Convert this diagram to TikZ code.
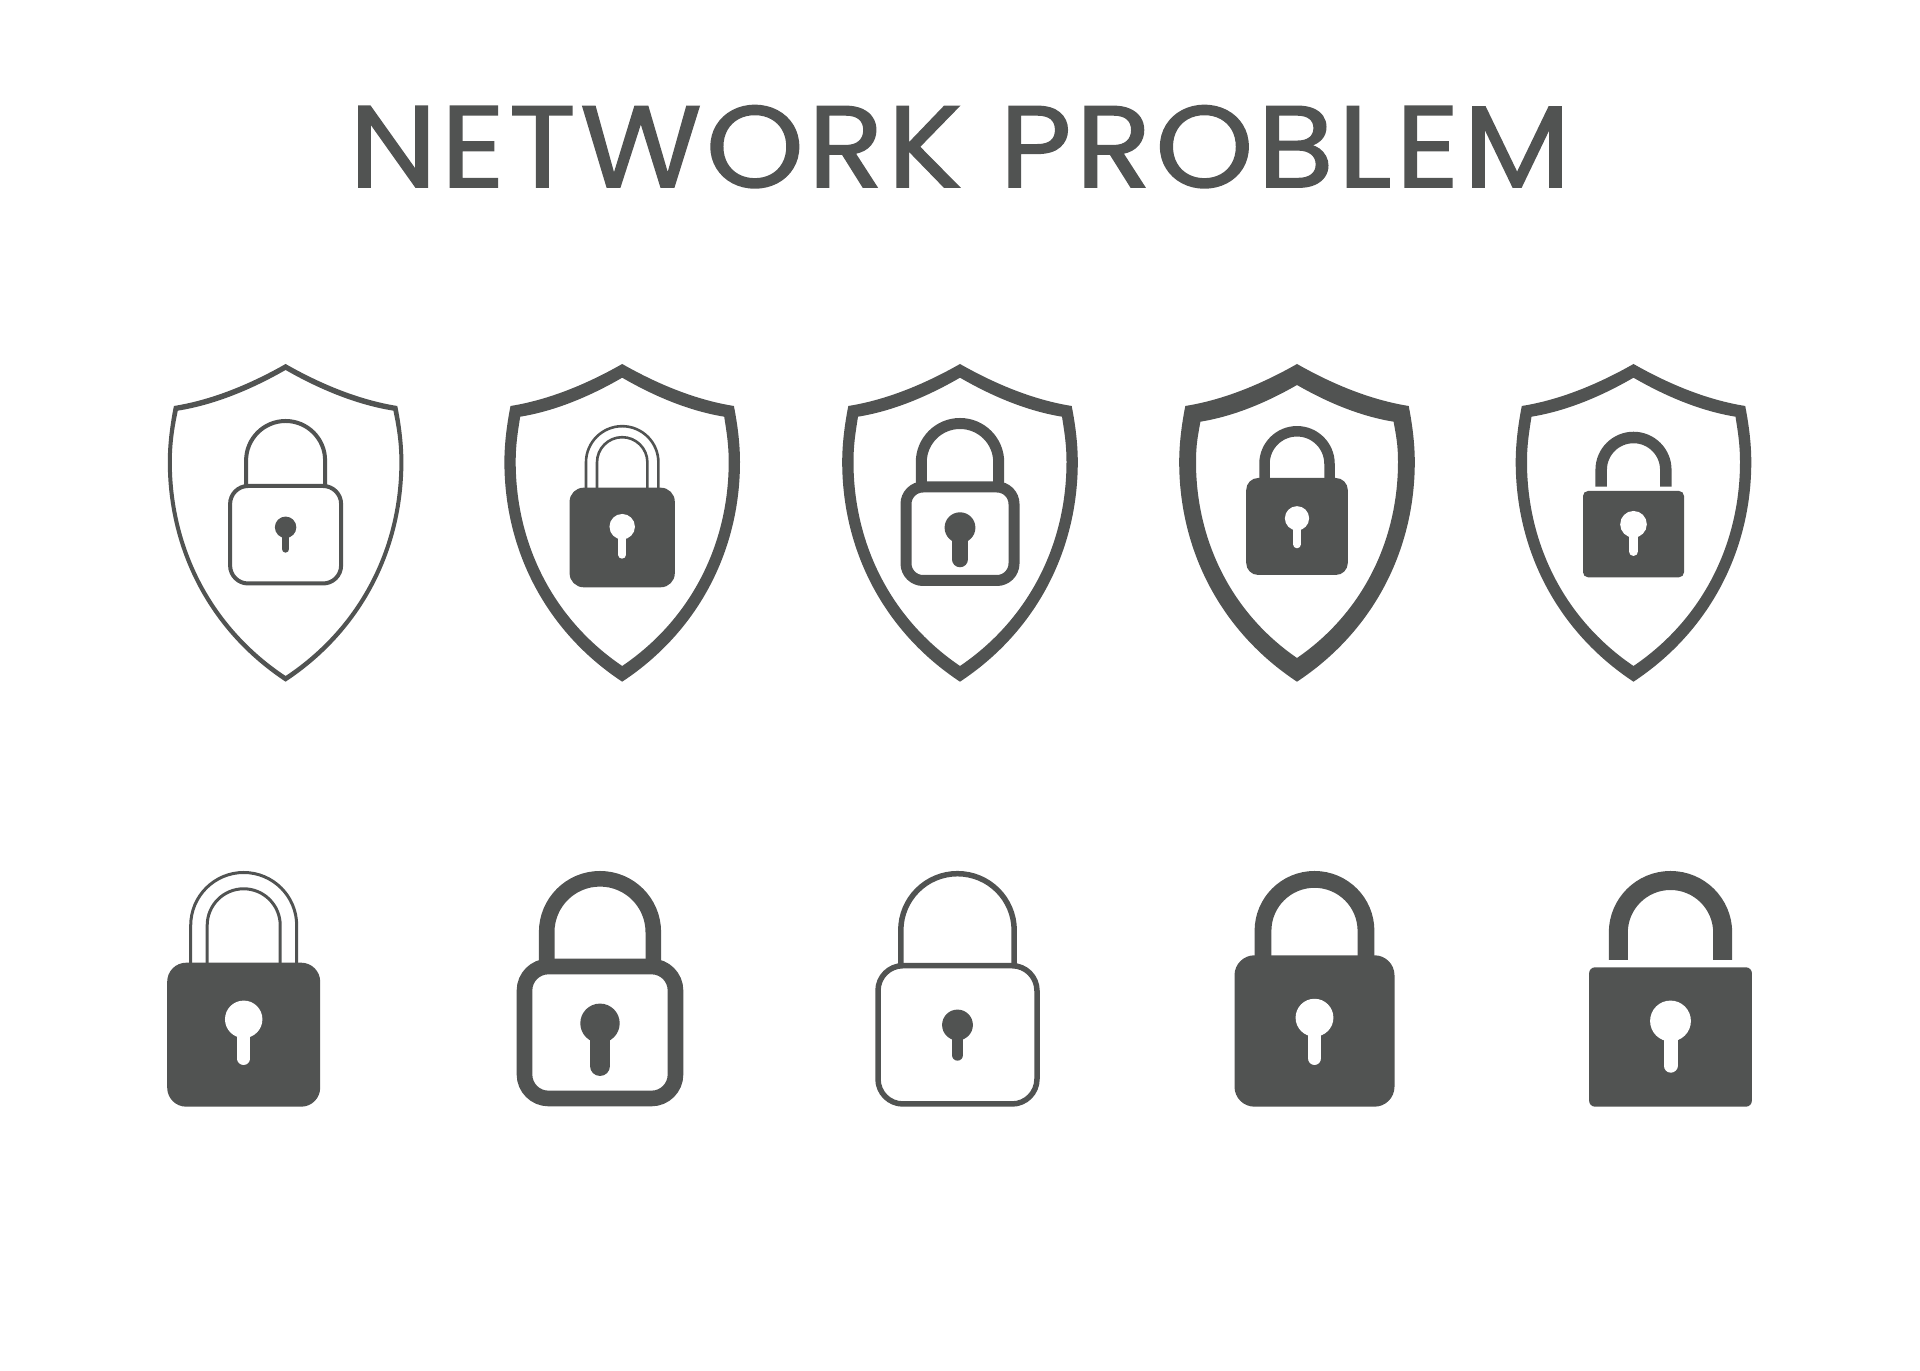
\documentclass[tikz,border=0pt]{standalone}
\usepackage{fontspec}
\newfontfamily\titlefont[LetterSpace=3,FakeBold=1.2]{Poppins}
\definecolor{iconcol}{HTML}{515352}

\newcommand{\shieldloop}[6]{(#1,#2) .. controls ({#1-.33*#3},{#2+.50*(#4-#2)}) and ({#1-.67*#3},{#2+.86*(#4-#2)}) .. ({#1-#3},#4)
  .. controls ({#1-.98*#5},{#4+.34*(462-#4)}) and ({#1-#5},{462-18}) .. ({#1-#5},462)
  .. controls ({#1-#5},{462+.40*(#6-462)}) and ({#1-.65*#5},{462+.77*(#6-462)}) .. (#1,#6)
  .. controls ({#1+.65*#5},{462+.77*(#6-462)}) and ({#1+#5},{462+.40*(#6-462)}) .. ({#1+#5},462)
  .. controls ({#1+#5},{462-18}) and ({#1+.98*#5},{#4+.34*(462-#4)}) .. ({#1+#3},#4)
  .. controls ({#1+.67*#3},{#2+.86*(#4-#2)}) and ({#1+.33*#3},{#2+.50*(#4-#2)}) .. cycle}
\newcommand{\shield}[6]{\fill[solidpart,even odd rule] \shieldloop{#1}{364}{111.7}{406}{117.8}{681.7} \shieldloop{#1}{#2}{#3}{#4}{#5}{#6};}
\newcommand{\shackle}[5]{\draw[linepart=#5] ({#1-#2},#4) -- ({#1-#2},{#3+#2}) arc (180:360:#2) -- ({#1+#2},#4);}
\newcommand{\lockbody}[6]{\path[#1,rounded corners=#6*0.01cm] ({#2-#3},#4) rectangle ({#2+#3},#5);}
\newcommand{\keyhole}[6]{\fill[#1] (#2,#3) circle (#4);
  \draw[#1,line width=2*#5*0.01cm,line cap=round] (#2,#3) -- (#2,{#6-#5});}

\tikzset{
  solidpart/.style={fill=iconcol,draw=none},
  linepart/.style={draw=iconcol,fill=none,line width=#1*0.01cm},
  darkhole/.style={fill=iconcol,draw=iconcol},
  whitehole/.style={fill=white,draw=white},
}

\begin{document}
\begin{tikzpicture}[x=0.01cm,y=-0.01cm]
  \useasboundingbox (0,0) rectangle (1920,1371);
  \node[text=iconcol,inner sep=0pt,xscale=1.077] (title) at (960,146.7) {\titlefont\fontsize{33pt}{36pt}\selectfont NETWORK PROBLEM};

  % shields
  \shield{285.6}{370}{107.8}{410.7}{113.8}{676}
  \shield{622.2}{377.7}{102}{416.7}{106.5}{666}
  \shield{960}{377.7}{102}{416.7}{106.5}{666}
  \shield{1297}{385}{96.6}{421.7}{101}{658}
  \shield{1633.5}{377.7}{102}{416.7}{106.5}{666}

  % locks inside the shields
  \shackle{285.6}{39.5}{421}{486}{4}
  \lockbody{linepart=4}{285.6}{55.5}{486}{583.5}{18}
  \keyhole{darkhole}{285.6}{527.3}{10}{3.6}{552.7}

  \shackle{622.2}{36.2}{426.2}{490}{2.6}
  \shackle{622.2}{25.2}{437.2}{490}{2.6}
  \lockbody{solidpart}{622.2}{52.6}{487.7}{587.3}{14}
  \keyhole{whitehole}{622.2}{526.7}{12}{4}{558.7}

  \shackle{960}{38.7}{423.5}{487}{11}
  \lockbody{linepart=11}{960}{54}{487}{580.5}{17}
  \keyhole{darkhole}{960}{527.7}{14.7}{8}{567.3}

  \shackle{1297}{32.5}{431.3}{482}{10.5}
  \lockbody{solidpart}{1297}{50.8}{478}{575}{12}
  \keyhole{whitehole}{1297}{518.3}{11.4}{4}{548.3}

  \shackle{1633.5}{32.3}{437.5}{486.7}{11.5}
  \lockbody{solidpart}{1633.5}{50.5}{491}{577.3}{5}
  \keyhole{whitehole}{1633.5}{524.3}{12.6}{4.6}{556}

  % locks on their own
  \shackle{243.7}{53}{872.5}{966}{3}
  \shackle{243.7}{36.5}{888.8}{966}{3}
  \lockbody{solidpart}{243.7}{76.5}{962.7}{1106.7}{19}
  \keyhole{whitehole}{243.7}{1019.3}{18}{6.3}{1065}

  \shackle{600}{53.3}{878.8}{966}{15.6}
  \lockbody{linepart=15.6}{600}{75.5}{966.5}{1098.5}{24}
  \keyhole{darkhole}{600}{1023.3}{19}{10}{1076}

  \shackle{957.5}{56.7}{873.7}{965.7}{5.5}
  \lockbody{linepart=5.5}{957.5}{79.5}{965.7}{1104}{25}
  \keyhole{darkhole}{957.5}{1025}{14.7}{5.8}{1060.7}

  \shackle{1314.5}{51.5}{879.4}{960}{16.8}
  \lockbody{solidpart}{1314.5}{80}{955.3}{1106.7}{20}
  \keyhole{whitehole}{1314.5}{1017.7}{18.2}{6.9}{1065}

  \shackle{1670.5}{52.2}{880.5}{960}{19}
  \lockbody{solidpart}{1670.5}{81.4}{967.3}{1106.7}{6}
  \keyhole{whitehole}{1670.5}{1021}{19.7}{7}{1072.7}
\end{tikzpicture}
\end{document}
